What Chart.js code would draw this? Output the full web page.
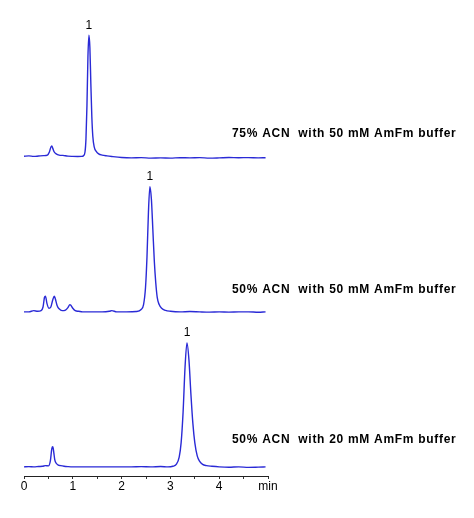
<!DOCTYPE html>
<html>
<head>
<meta charset="utf-8">
<script src="https://cdn.jsdelivr.net/npm/chart.js@4"></script>
<style>
  html, body { margin: 0; padding: 0; background: #ffffff; }
  #wrap { width: 474px; height: 518px; position: relative; }
</style>
</head>
<body>
<div id="wrap"><canvas id="c" width="474" height="518"></canvas></div>
<script>
// ---- data ----
const conditions = [
  "75% ACN  with 50 mM AmFm buffer",
  "50% ACN  with 50 mM AmFm buffer",
  "50% ACN  with 20 mM AmFm buffer"
];
const peakLabels = ["1", "1", "1"];

const times1 = [0, 0.1, 0.2, 0.3, 0.4, 0.48, 0.52, 0.55, 0.57, 0.59, 0.62, 0.66, 0.72, 0.8, 0.9, 1.0, 1.1, 1.18, 1.22, 1.25, 1.27, 1.29, 1.31, 1.33, 1.35, 1.37, 1.39, 1.41, 1.44, 1.48, 1.53, 1.6, 1.7, 1.8, 2.0, 2.2, 2.4, 2.6, 2.8, 3.0, 3.2, 3.4, 3.6, 3.8, 4.0, 4.2, 4.4, 4.6, 4.8, 4.95];
const signal1 = [0.005, 0.008, 0.004, 0.007, 0.01, 0.015, 0.04, 0.08, 0.09, 0.07, 0.04, 0.025, 0.015, 0.012, 0.006, 0.004, 0.003, 0.004, 0.01, 0.04, 0.15, 0.42, 0.82, 1.0, 0.9, 0.6, 0.33, 0.17, 0.08, 0.045, 0.025, 0.015, 0.008, 0.003, -0.005, -0.008, -0.006, -0.01, -0.008, -0.01, -0.007, -0.008, -0.006, -0.01, -0.008, -0.005, -0.007, -0.006, -0.008, -0.007];

const times2 = [0, 0.1, 0.2, 0.28, 0.35, 0.39, 0.42, 0.44, 0.47, 0.51, 0.55, 0.59, 0.62, 0.64, 0.68, 0.72, 0.78, 0.85, 0.9, 0.94, 0.96, 1.0, 1.05, 1.12, 1.2, 1.4, 1.6, 1.75, 1.8, 1.9, 2.1, 2.3, 2.4, 2.45, 2.49, 2.52, 2.55, 2.58, 2.61, 2.64, 2.67, 2.7, 2.73, 2.77, 2.82, 2.9, 3.0, 3.2, 3.4, 3.6, 3.8, 4.0, 4.2, 4.4, 4.6, 4.8, 4.95];
const signal2 = [0.0, 0.0, 0.01, 0.005, 0.01, 0.04, 0.12, 0.13, 0.07, 0.03, 0.04, 0.1, 0.13, 0.11, 0.05, 0.025, 0.01, 0.015, 0.035, 0.06, 0.055, 0.03, 0.01, 0.005, 0.0, 0.0, 0.0, 0.005, 0.01, 0.0, 0.0, 0.003, 0.02, 0.06, 0.2, 0.45, 0.82, 1.03, 0.93, 0.68, 0.42, 0.24, 0.12, 0.06, 0.03, 0.012, 0.005, 0.0, 0.003, 0.0, -0.002, 0.0, -0.002, 0.0, 0.0, -0.003, 0.0];

const times3 = [0, 0.1, 0.2, 0.3, 0.38, 0.44, 0.5, 0.54, 0.57, 0.59, 0.61, 0.63, 0.66, 0.7, 0.75, 0.82, 0.9, 1.0, 1.2, 1.4, 1.6, 1.8, 2.0, 2.2, 2.4, 2.6, 2.8, 2.95, 3.05, 3.12, 3.18, 3.22, 3.26, 3.30, 3.34, 3.38, 3.42, 3.46, 3.5, 3.55, 3.6, 3.66, 3.74, 3.85, 4.0, 4.2, 4.4, 4.6, 4.8, 4.95];
const signal3 = [0.0, 0.002, 0.0, 0.003, 0.005, 0.01, 0.008, 0.05, 0.15, 0.165, 0.12, 0.06, 0.03, 0.015, 0.01, 0.005, 0.002, 0.0, 0.0, 0.0, 0.0, 0.0, 0.0, 0.0, 0.002, 0.0, 0.003, 0.0, 0.005, 0.02, 0.08, 0.2, 0.45, 0.82, 1.02, 0.88, 0.6, 0.36, 0.2, 0.09, 0.045, 0.02, 0.01, 0.005, 0.0, -0.003, 0.0, -0.004, -0.002, 0.0];

const xTicks = [0, 1, 2, 3, 4];
const xUnit = "min";

// ---- build ----
const LINE = '#2a2ad6';
const FONT = '"Liberation Sans", Arial, sans-serif';
function pts(t, v) { return t.map((x, i) => ({ x: x, y: v[i] })); }
const series = [pts(times1, signal1), pts(times2, signal2), pts(times3, signal3)];
const axisIds = ['y1', 'y2', 'y3'];

const hiddenY = (weight) => ({
  type: 'linear', position: 'left', stack: 'traces', stackWeight: 1, weight: weight,
  min: -0.075, max: 1.2,
  display: true,
  grid: { display: false, drawTicks: false },
  border: { display: false },
  ticks: { display: false },
  afterFit: (s) => { s.width = 0; }
});

const annot = {
  id: 'annot',
  afterDatasetsDraw(chart) {
    const ctx = chart.ctx;
    const xs = chart.scales.x;
    ctx.save();
    chart.data.datasets.forEach((ds, i) => {
      const ys = chart.scales[axisIds[i]];
      let best = ds.data[0];
      ds.data.forEach(p => { if (p.y > best.y) best = p; });
      ctx.fillStyle = '#000';
      ctx.font = '12px ' + FONT;
      ctx.textAlign = 'center';
      ctx.textBaseline = 'bottom';
      ctx.fillText(peakLabels[i], xs.getPixelForValue(best.x), ys.getPixelForValue(best.y) - 4);
      ctx.font = 'bold 12px ' + FONT;
      ctx.letterSpacing = '0.7px';
      ctx.textAlign = 'left';
      ctx.textBaseline = 'middle';
      const by = ys.getPixelForValue(0);
      ctx.fillText(conditions[i], 232, by - (i === 0 ? 23 : (i === 1 ? 22 : 27)));
      ctx.letterSpacing = '0px';
    });
    ctx.restore();
  }
};

const bg = {
  id: 'bg',
  beforeDraw(chart) {
    const c = chart.ctx; c.save(); c.fillStyle = '#fff';
    c.fillRect(0, 0, chart.width, chart.height); c.restore();
  }
};

new Chart(document.getElementById('c'), {
  type: 'line',
  data: {
    datasets: series.map((d, i) => ({
      label: conditions[i],
      data: d,
      yAxisID: axisIds[i],
      borderColor: LINE,
      borderWidth: 1.4,
      pointRadius: 0,
      fill: false,
      cubicInterpolationMode: 'monotone'
    }))
  },
  options: {
    responsive: false,
    animation: false,
    layout: { padding: { left: 24, right: 206, top: 11, bottom: 0 } },
    plugins: { legend: { display: false }, tooltip: { enabled: false } },
    scales: {
      x: {
        type: 'linear', position: 'bottom', min: 0, max: 5,
        afterBuildTicks: (s) => {
          const t = [];
          for (let k = 0; k <= 10; k++) t.push({ value: k * 0.5 });
          s.ticks = t;
        },
        afterFit: (s) => { s.height = 42; },
        grid: { display: true, drawOnChartArea: false, drawTicks: true, tickLength: 3, color: '#333', lineWidth: 1 },
        border: { display: true, color: '#222', width: 1 },
        ticks: {
          color: '#000', padding: 0, maxRotation: 0, autoSkip: false,
          font: { family: FONT, size: 12 },
          callback: (v) => {
            if (Math.abs(v - 5) < 1e-6) return xUnit;
            return xTicks.includes(v) ? String(v) : '';
          }
        }
      },
      y1: hiddenY(3),
      y2: hiddenY(2),
      y3: hiddenY(1)
    }
  },
  plugins: [bg, annot]
});
</script>
</body>
</html>
